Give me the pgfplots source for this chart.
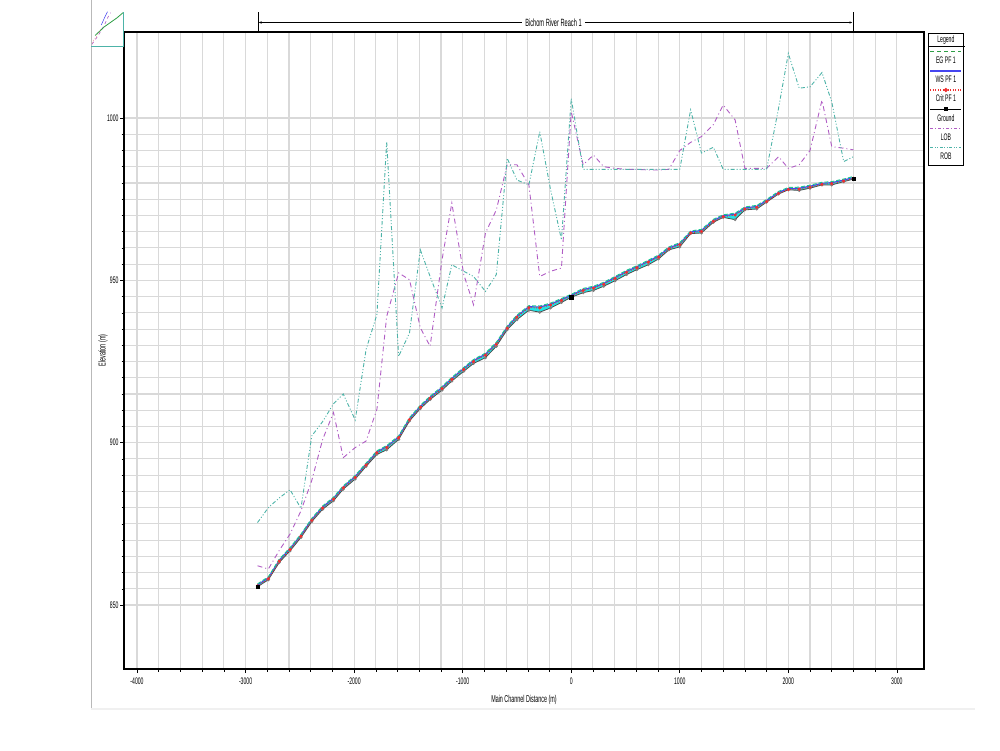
\documentclass[border=0pt]{standalone}
\usepackage{fontspec}
\setmainfont{Liberation Sans}[FakeStretch=0.54]
\usepackage{pgfplots}
\pgfplotsset{compat=1.18}
\usepackage{pgfplotstable}
\usepgfplotslibrary{fillbetween}
\usetikzlibrary{arrows.meta}

\definecolor{robc}{HTML}{4DB3A8}
\definecolor{lobc}{HTML}{B05CC4}
\definecolor{egc}{HTML}{2E9E46}
\definecolor{wsc}{HTML}{4646F0}
\definecolor{critc}{HTML}{F03030}
\definecolor{waterc}{HTML}{1EE6E6}
\definecolor{gridc}{HTML}{D9D9D9}

\newcommand\lbl{\fontsize{9.5pt}{11pt}\selectfont}

\pgfplotstableread{
x gnd ws eg crit
-2890 855.6 856.2 856.5 855.9
-2790 857.8 858.4 858.7 858.1
-2690 863.1 863.8 864.1 863.5
-2590 866.7 867.4 867.7 867.1
-2490 870.8 871.5 871.8 871.2
-2390 875.7 876.4 876.7 876.1
-2290 879.5 880.2 880.5 879.9
-2190 882.1 882.9 883.2 882.6
-2100 885.7 886.4 886.7 886.1
-1990 888.8 889.6 889.9 889.3
-1890 892.7 893.4 893.7 893.1
-1790 896.4 897.2 897.5 896.9
-1700 897.8 898.8 899.1 898.5
-1590 901.0 901.8 902.1 901.5
-1490 906.7 907.4 907.7 907.1
-1390 910.5 911.2 911.5 910.9
-1300 913.3 914.0 914.3 913.7
-1190 916.2 917.0 917.3 916.7
-1100 919.0 919.8 920.1 919.5
-990 922.0 922.9 923.2 922.6
-900 924.4 925.3 925.6 925.0
-790 926.2 927.3 927.6 927.0
-690 929.7 930.6 930.9 930.3
-590 934.8 935.6 935.9 935.3
-500 937.9 939.0 939.3 938.7
-390 940.8 941.9 942.2 941.6
-290 940.2 941.8 942.1 941.5
-190 941.5 942.7 943.0 942.4
-90 943.2 944.1 944.4 943.8
0 944.8 945.4 945.7 945.1
110 946.2 947.2 947.5 946.9
205 946.9 947.9 948.2 947.6
300 948.2 949.1 949.4 948.8
405 949.9 950.9 951.2 950.6
510 951.8 952.8 953.1 952.5
605 953.3 954.2 954.5 953.9
710 954.8 955.9 956.2 955.6
805 956.6 957.5 957.8 957.2
900 959.4 960.0 960.3 959.7
1000 960.3 961.3 961.6 961.0
1100 964.4 964.9 965.2 964.6
1200 964.6 965.4 965.7 965.1
1310 967.9 968.5 968.8 968.2
1400 969.4 969.9 970.2 969.6
1510 968.7 970.4 970.7 970.1
1600 971.7 972.3 972.6 972.0
1710 972.0 972.8 973.1 972.5
1800 974.1 974.6 974.9 974.3
1910 976.6 977.1 977.4 976.8
2000 977.9 978.3 978.6 978.0
2100 977.7 978.4 978.7 978.1
2200 978.4 979.0 979.3 978.7
2310 979.4 979.9 980.2 979.6
2400 979.4 980.1 980.4 979.8
2510 980.4 980.9 981.2 980.6
2600 981.2 981.7 982.0 981.4
}\prof

\pgfplotstableread{
x lob rob
-2890 862.1 875.4
-2790 861.1 880.0
-2690 866.8 883.0
-2590 871.9 885.5
-2490 879.0 879.8
-2390 888.4 902.1
-2290 901.0 906.5
-2190 909.3 912.0
-2100 895.4 915.0
-1990 898.5 907.0
-1890 900.5 928.7
-1790 910.3 939.5
-1700 938.9 992.7
-1590 952.3 926.6
-1490 950.2 933.8
-1390 935.4 959.4
-1300 929.7 951.2
-1190 956.4 941.5
-1100 973.8 954.8
-990 951.8 952.8
-900 942.5 951.2
-790 964.6 946.6
-690 971.7 951.8
-590 985.6 987.6
-500 985.6 980.9
-390 979.4 979.4
-290 951.2 995.8
-190 952.8 977.9
-90 953.8 962.5
0 1002.0 1006.0
110 985.6 984.2
205 988.6 984.2
300 985.0 984.2
405 984.5 984.2
510 984.2 984.2
605 984.2 984.2
710 984.0 984.2
805 984.0 984.2
900 984.2 984.2
1000 990.0 984.2
1100 992.5 1002.5
1200 994.3 989.2
1310 998.0 991.0
1400 1004.0 984.2
1510 999.4 984.2
1600 984.5 984.2
1710 984.5 984.2
1800 984.5 984.2
1910 988.1 1003.0
2000 984.5 1019.9
2100 985.6 1009.2
2200 990.0 1009.6
2310 1005.5 1014.0
2400 991.2 1005.0
2510 990.7 986.6
2600 990.2 988.1
}\banks

\begin{document}
\begin{tikzpicture}
% window frame
\draw[gray!55, line width=1pt] (91pt,41pt) -- (91pt,750pt);
\draw[gray!12, line width=2pt] (91pt,41pt) -- (975pt,41pt);

\begin{axis}[
  at={(124pt,81pt)}, anchor=south west,
  width=800pt, height=637pt, scale only axis,
  xmin=-4120, xmax=3250, ymin=830.3, ymax=1026.5,
  xtick={-4000,-3000,...,3000}, minor x tick num=4,
  ytick={850,900,950,1000}, minor y tick num=9,
  xtick pos=bottom, ytick pos=left,
  grid=both,
  major grid style={gridc, line width=1.1pt},
  minor grid style={gridc, line width=1.1pt},
  axis line style={line width=1.5pt},
  tick align=outside,
  major tick length=4pt, minor tick length=2.5pt,
  every tick/.style={black, line width=0.6pt},
  tick label style={font=\lbl},
  xticklabel style={yshift=-1.5pt},
  yticklabel style={xshift=2pt},
  /pgf/number format/assume math mode=true,
  /pgf/number format/set thousands separator={},
  xlabel={Main Channel Distance (m)},
  ylabel={Elevation (m)},
  label style={font=\lbl},
  every axis x label/.style={at={(axis description cs:0.5,-0.0487)}, anchor=center},
  every axis y label/.style={at={(axis description cs:-0.02625,0.5)}, anchor=center, rotate=90},
  legend style={
    at={(axis description cs:1.0046,0.998)}, anchor=north west,
    draw=black, line width=0.9pt, fill=white,
    font=\lbl,
    inner xsep=5.5pt, inner ysep=1pt,
    row sep=7.7pt, column sep=0pt,
    cells={anchor=center, inner sep=1pt, text height=6pt, text depth=1.5pt},
  },
]
\addlegendimage{legend image code/.code={\path[draw=none,fill=none] (0pt,-7.3pt) -- (0pt,0pt); \draw[overlay,black,line width=0.9pt] (-5.5pt,-5.8pt) -- (31pt,-5.8pt);}}
\addlegendentry{Legend}
\addlegendimage{legend image code/.code={\path[draw=none,fill=none] (0pt,0pt) -- (0pt,0.1pt); \draw[overlay,egc,line width=1.1pt,dash pattern=on 4pt off 3pt] (-3.25pt,9.6pt) -- (27.75pt,9.6pt);}}
\addlegendentry{EG PF 1}
\addlegendimage{legend image code/.code={\path[draw=none,fill=none] (0pt,0pt) -- (0pt,0.1pt); \draw[overlay,wsc,line width=1.4pt] (-3.25pt,9.6pt) -- (27.75pt,9.6pt);}}
\addlegendentry{WS PF 1}
\addlegendimage{legend image code/.code={\path[draw=none,fill=none] (0pt,0pt) -- (0pt,0.1pt); \draw[overlay,critc,line width=1.1pt,dash pattern=on 1pt off 1.5pt] (-3.25pt,9.6pt) -- (27.75pt,9.6pt); \fill[overlay,critc] (12.25pt,9.6pt) circle (1.6pt);}}
\addlegendentry{Crit PF 1}
\addlegendimage{legend image code/.code={\path[draw=none,fill=none] (0pt,0pt) -- (0pt,0.1pt); \draw[overlay,black,line width=1.1pt] (-3.25pt,9.6pt) -- (27.75pt,9.6pt); \fill[overlay,black] (10.75pt,8.1pt) rectangle (13.75pt,11.1pt);}}
\addlegendentry{Ground}
\addlegendimage{legend image code/.code={\path[draw=none,fill=none] (0pt,0pt) -- (0pt,0.1pt); \draw[overlay,lobc,line width=1.1pt,dash pattern=on 3pt off 2pt on 1pt off 2pt] (-3.25pt,9.6pt) -- (27.75pt,9.6pt);}}
\addlegendentry{LOB}
\addlegendimage{legend image code/.code={\path[draw=none,fill=none] (0pt,-7.5pt) -- (0pt,0pt); \draw[overlay,robc,line width=1.1pt,dash pattern=on 3pt off 1.5pt on 1pt off 1.5pt on 1pt off 1.5pt] (-3.25pt,9.6pt) -- (27.75pt,9.6pt);}}
\addlegendentry{ROB}

\addplot[name path=gnd, draw=none, forget plot] table[x=x,y=gnd]{\prof};
\addplot[name path=wsp, draw=none, forget plot] table[x=x,y=ws]{\prof};
\addplot[waterc, forget plot] fill between[of=wsp and gnd];

\addplot[lobc, line width=0.9pt, dash pattern=on 5pt off 3pt on 1pt off 3pt, forget plot] table[x=x,y=lob]{\banks};
\addplot[robc, line width=0.9pt, dash pattern=on 4pt off 2pt on 1pt off 2pt on 1pt off 2pt, forget plot] table[x=x,y=rob]{\banks};

\addplot[black!70, line width=0.8pt, mark=*, mark size=1.1pt, mark options={gray,solid}, forget plot] table[x=x,y=gnd]{\prof};
\addplot[wsc, line width=1.1pt, forget plot] table[x=x,y=ws]{\prof};
\addplot[critc, line width=0.9pt, dash pattern=on 1pt off 1.5pt, mark=*, mark size=1.1pt, mark options={solid,critc}, forget plot] table[x=x,y=crit]{\prof};
\addplot[egc!60!cyan, line width=1pt, dash pattern=on 4pt off 2pt, forget plot] table[x=x,y=eg]{\prof};
\addplot[only marks, mark=square*, mark size=1.6pt, black, forget plot] coordinates {(-2890,855.6) (0,944.8) (2600,981.2)};
\end{axis}

% thumbnail
\begin{axis}[at={(92pt,704pt)}, anchor=south west, width=31pt, height=35pt, scale only axis,
  hide axis, xmin=0, xmax=10, ymin=0, ymax=10, clip=true]
\addplot[lobc, line width=0.6pt, dashed] coordinates {(0,0.5) (2,3) (4,6) (5,8) (6,9.5)};
\addplot[egc, line width=0.8pt] coordinates {(1,3) (4,5.5) (8,8) (10,9.5)};
\addplot[wsc, line width=0.5pt] coordinates {(3,6) (4,8) (5,9.8)};
\addplot[critc, line width=0.5pt, dotted] coordinates {(0,1) (2,3.5) (3,5)};
\end{axis}
\draw[robc, line width=1pt] (91pt,703pt) -- (123.5pt,703pt) -- (123.5pt,738pt);

% reach bracket
\draw[black, line width=0.6pt] (258pt,718pt) -- (258pt,738pt);
\draw[black, line width=0.6pt] (853pt,718pt) -- (853pt,738pt);
\draw[black, line width=0.6pt, {Latex[length=3pt,width=2.5pt]}-{Latex[length=3pt,width=2.5pt]}] (258.5pt,727.5pt) -- (852.5pt,727.5pt);
\node[fill=white, inner sep=3pt, font=\fontsize{10.5pt}{12pt}\selectfont] at (553.5pt,727.5pt) {Bichom River Reach 1};

\pgfresetboundingbox
\path[use as bounding box] (0,0) rectangle (1000pt,750pt);
\end{tikzpicture}
\end{document}
